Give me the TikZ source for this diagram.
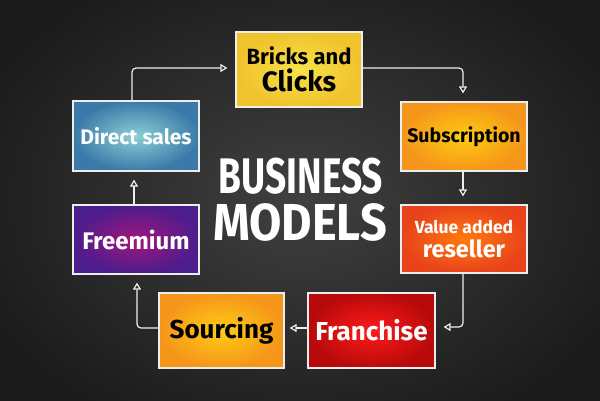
\documentclass[tikz,border=0pt]{standalone}
\usepackage{fontspec}
\usepackage{graphicx}
\setmainfont{Fira Sans}
\usetikzlibrary{arrows.meta}
\definecolor{chalk}{HTML}{EDEDED}
\tikzset{
  box/.style={draw=chalk, line width=1.2pt, minimum width=126pt, minimum height=70pt, inner sep=2pt, align=center, font=\bfseries},
  conn/.style={draw=chalk, line width=1.2pt, rounded corners=4pt, -{Triangle[open, width=8pt, length=7pt]}, shorten >=8pt},
  title/.style={text=white, inner sep=0pt, anchor=base},
}
\begin{document}
\begin{tikzpicture}[x=1pt,y=-1pt]
\useasboundingbox (0,0) rectangle (600,400);
\shade[inner color={rgb,255:red,64;green,64;blue,64}, outer color={rgb,255:red,26;green,26;blue,26}] (-60,-60) rectangle (660,460);
% boxes
\node[box, minimum height=75pt, inner color={rgb,255:red,247;green,227;blue,74}, outer color={rgb,255:red,240;green,194;blue,44}, text=black, font=\bfseries\fontsize{22}{27}\selectfont] (bc) at (299,69.5)
  {Bricks and\\{\fontsize{28}{27}\selectfont Clicks}};
\node[box, inner color={rgb,255:red,140;green,207;blue,214}, outer color={rgb,255:red,59;green,122;blue,168}, text=white] (ds) at (136,136)
  {\fontsize{21}{22}\selectfont Direct sales};
\node[box, minimum height=69pt, inner color={rgb,255:red,255;green,204;blue,17}, outer color={rgb,255:red,245;green,149;blue,26}, text=black] (sub) at (464,136.5)
  {\fontsize{19.5}{21}\selectfont Subscription};
\node[box, minimum height=68pt, inner color={rgb,255:red,255;green,122;blue,16}, outer color={rgb,255:red,232;green,67;blue,26}, text=white, font=\bfseries\fontsize{17.5}{24}\selectfont] (var) at (464,239)
  {Value added\\{\fontsize{23.5}{24}\selectfont reseller}};
\node[box, minimum height=69pt, inner color={rgb,255:red,160;green,22;blue,126}, outer color={rgb,255:red,76;green,29;blue,140}, text=white] (fre) at (136,239.5)
  {\fontsize{24}{26}\selectfont Freemium};
\node[box, minimum width=125pt, minimum height=75pt, inner color={rgb,255:red,255;green,204;blue,21}, outer color={rgb,255:red,245;green,149;blue,26}, text=black] (src) at (221.5,330.5)
  {\fontsize{26}{28}\selectfont Sourcing};
\node[box, minimum width=127pt, minimum height=75pt, inner color={rgb,255:red,255;green,26;blue,26}, outer color={rgb,255:red,184;green,10;blue,10}, text=white] (fra) at (371.5,330.5)
  {\fontsize{26}{28}\selectfont Franchise};
% title
\node[title, font=\fontsize{50}{50}\selectfont\bfseries, text depth=0pt] (t1) at (301,193) {\scalebox{0.74}[1]{BUSINESS}};
\node[title, font=\fontsize{52}{52}\selectfont\bfseries, text height=36pt] (t2) at (300,240) {\scalebox{0.9}[1]{MODELS}};
% connectors
\coordinate (c1) at (132,68);
\coordinate (c2) at (463,68);
\coordinate (c3) at (463,327);
\coordinate (c4) at (137,328);
\draw[conn] (ds.north -| c1) -- (c1) -- (bc.west |- c1);
\draw[conn] (bc.east |- c2) -- (c2) -- (sub.north -| c2);
\draw[conn] (sub.south -| c2) -- (var.north -| c2);
\draw[conn] (var.south -| c3) -- (c3) -- (fra.east |- c3);
\draw[conn, shorten >=5pt] (fra.west |- c4) -- (src.east |- c4);
\draw[conn] (src.west |- c4) -- (c4) -- (fre.south -| c4);
\draw[conn] (fre.north -| 134,0) -- (ds.south -| 134,0);
\end{tikzpicture}
\end{document}
